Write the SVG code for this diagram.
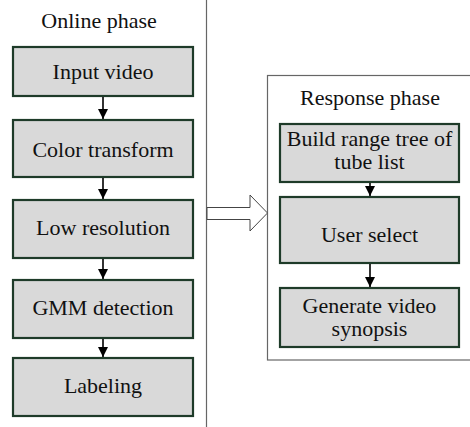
<svg xmlns="http://www.w3.org/2000/svg" width="470" height="427" viewBox="0 0 470 427">
<style>
.panel{fill:none;stroke:#666;stroke-width:1.2}
.box{fill:#d9d9d9;stroke:#1e3b29;stroke-width:2.2}
.c{stroke:#000;stroke-width:1.6;fill:none}
.hollow{fill:#fff;stroke:#444;stroke-width:1}
</style>
<defs>
<marker id="ah" viewBox="0 0 10 10" refX="10" refY="5" markerWidth="10" markerHeight="10" markerUnits="userSpaceOnUse" orient="auto">
<path d="M0,0 L10,5 L0,10 Z" fill="#000"/>
</marker>
</defs>
<rect x="0" y="0" width="470" height="427" fill="#fff"/>
<g font-family="Liberation Serif, serif" font-size="22" fill="#111" text-anchor="middle">
<g id="online-panel">
<line class="panel" x1="206.5" y1="0" x2="206.5" y2="427"/>
<text x="99" y="28">Online phase</text>
</g>
<g id="response-panel">
<rect class="panel" x="267.5" y="75.5" width="210" height="284.5"/>
<text x="370" y="105">Response phase</text>
</g>
<g id="input-video"><rect class="box" x="13" y="47" width="180" height="49"/><text x="103" y="79">Input video</text></g>
<g id="color-transform"><rect class="box" x="13" y="120" width="180" height="57"/><text x="103" y="157">Color transform</text></g>
<g id="low-resolution"><rect class="box" x="13" y="200" width="180" height="58"/><text x="103" y="235">Low resolution</text></g>
<g id="gmm-detection"><rect class="box" x="13" y="280" width="180" height="58"/><text x="103" y="315">GMM detection</text></g>
<g id="labeling"><rect class="box" x="13" y="358" width="180" height="58"/><text x="103" y="393">Labeling</text></g>
<g id="build-range-tree"><rect class="box" x="280" y="124" width="179" height="58"/><text x="369.5" y="146">Build range tree of</text><text x="369.5" y="169">tube list</text></g>
<g id="user-select"><rect class="box" x="280" y="197" width="179" height="66"/><text x="369.5" y="242">User select</text></g>
<g id="generate-synopsis"><rect class="box" x="280" y="288" width="179" height="59"/><text x="369.5" y="313">Generate video</text><text x="369.5" y="336">synopsis</text></g>
</g>
<g id="connectors">
<line class="c" x1="103" y1="97" x2="103" y2="119" marker-end="url(#ah)"/>
<line class="c" x1="103" y1="178" x2="103" y2="199" marker-end="url(#ah)"/>
<line class="c" x1="103" y1="259" x2="103" y2="279" marker-end="url(#ah)"/>
<line class="c" x1="103" y1="339" x2="103" y2="357" marker-end="url(#ah)"/>
<line class="c" x1="370" y1="183" x2="370" y2="196" marker-end="url(#ah)"/>
<line class="c" x1="370" y1="264" x2="370" y2="287" marker-end="url(#ah)"/>
<path class="hollow" d="M207,207.5 L250,207.5 L250,195 L267.5,213 L250,231 L250,219.5 L207,219.5 Z"/>
</g>
</svg>
